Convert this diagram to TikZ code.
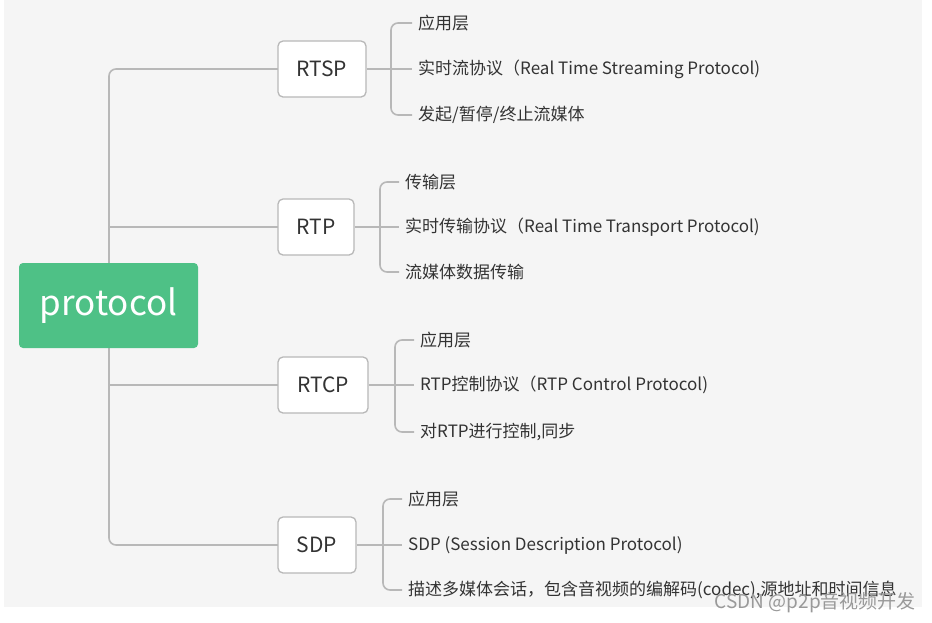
\documentclass[tikz,border=0pt]{standalone}
\usepackage{fontspec}
\setmainfont{Noto Sans CJK SC}
\begin{document}
\begin{tikzpicture}[x=1pt,y=-1pt,
  ln/.style={draw=black!28,line width=1.6pt,rounded corners=7pt},
  sub/.style={draw=black!28,line width=1.3pt,fill=white,rounded corners=5pt,minimum height=56pt,inner sep=0pt,font=\fontsize{21}{21}\selectfont,text=black!80},
  leaf/.style={anchor=west,inner sep=0pt,font=\fontsize{17}{17}\selectfont,text=black!80}]
\useasboundingbox (0,0) rectangle (932,622);
\fill[black!4] (4,0) rectangle (922,607);
% trunk
\draw[ln] (278,69) -- (109,69) -- (109,545) -- (278,545);
\draw[ln] (109,227) -- (278,227);
\draw[ln] (109,385) -- (278,385);
\node[fill={rgb,255:red,78;green,193;blue,134},rounded corners=4pt,minimum width=179pt,minimum height=85pt,text=white,font=\fontsize{35}{35}\selectfont] (p) at (108.5,305.5) {\raisebox{-2pt}{protocol}};
\node[sub,minimum width=88pt] (rtsp) at (322,69) {RTSP};
\node[sub,minimum width=76pt] (rtp) at (316,227) {RTP};
\node[sub,minimum width=90pt] (rtcp) at (323,385) {RTCP};
\node[sub,minimum width=78pt] (sdp) at (317,545) {SDP};
% RTSP leaves
\node[leaf] (a1) at (418,23) {应用层};
\node[leaf] (a2) at (418,69) {实时流协议（Real Time Streaming Protocol)};
\node[leaf] (a3) at (418,115) {发起/暂停/终止流媒体};
\draw[ln] ([xshift=-6pt]a1.west) -- (391,23) -- (391,115) -- ([xshift=-6pt]a3.west);
\draw[ln] (rtsp.east) -- ([xshift=-6pt]a2.west);
% RTP leaves
\node[leaf] (b1) at (405,182) {传输层};
\node[leaf] (b2) at (405,227) {实时传输协议（Real Time Transport Protocol)};
\node[leaf] (b3) at (405,272) {流媒体数据传输};
\draw[ln] ([xshift=-6pt]b1.west) -- (380,182) -- (380,272) -- ([xshift=-6pt]b3.west);
\draw[ln] (rtp.east) -- ([xshift=-6pt]b2.west);
% RTCP leaves
\node[leaf] (c1) at (420,340) {应用层};
\node[leaf] (c2) at (420,385) {RTP控制协议（RTP Control Protocol)};
\node[leaf] (c3) at (420,432) {对RTP进行控制,同步};
\draw[ln] ([xshift=-6pt]c1.west) -- (395,340) -- (395,432) -- ([xshift=-6pt]c3.west);
\draw[ln] (rtcp.east) -- ([xshift=-6pt]c2.west);
% SDP leaves
\node[leaf] (d1) at (408,499) {应用层};
\node[leaf] (d2) at (408,545) {SDP (Session Description Protocol)};
\node[leaf] (d3) at (408,590) {描述多媒体会话，包含音视频的编解码(codec),源地址和时间信息};
\draw[ln] ([xshift=-6pt]d1.west) -- (383,499) -- (383,590) -- ([xshift=-6pt]d3.west);
\draw[ln] (sdp.east) -- ([xshift=-6pt]d2.west);
\node[anchor=east,inner sep=0pt,text=black!40,font=\fontsize{19}{19}\selectfont] (wm) at (916,603) {CSDN @p2p音视频开发};
\end{tikzpicture}
\end{document}
